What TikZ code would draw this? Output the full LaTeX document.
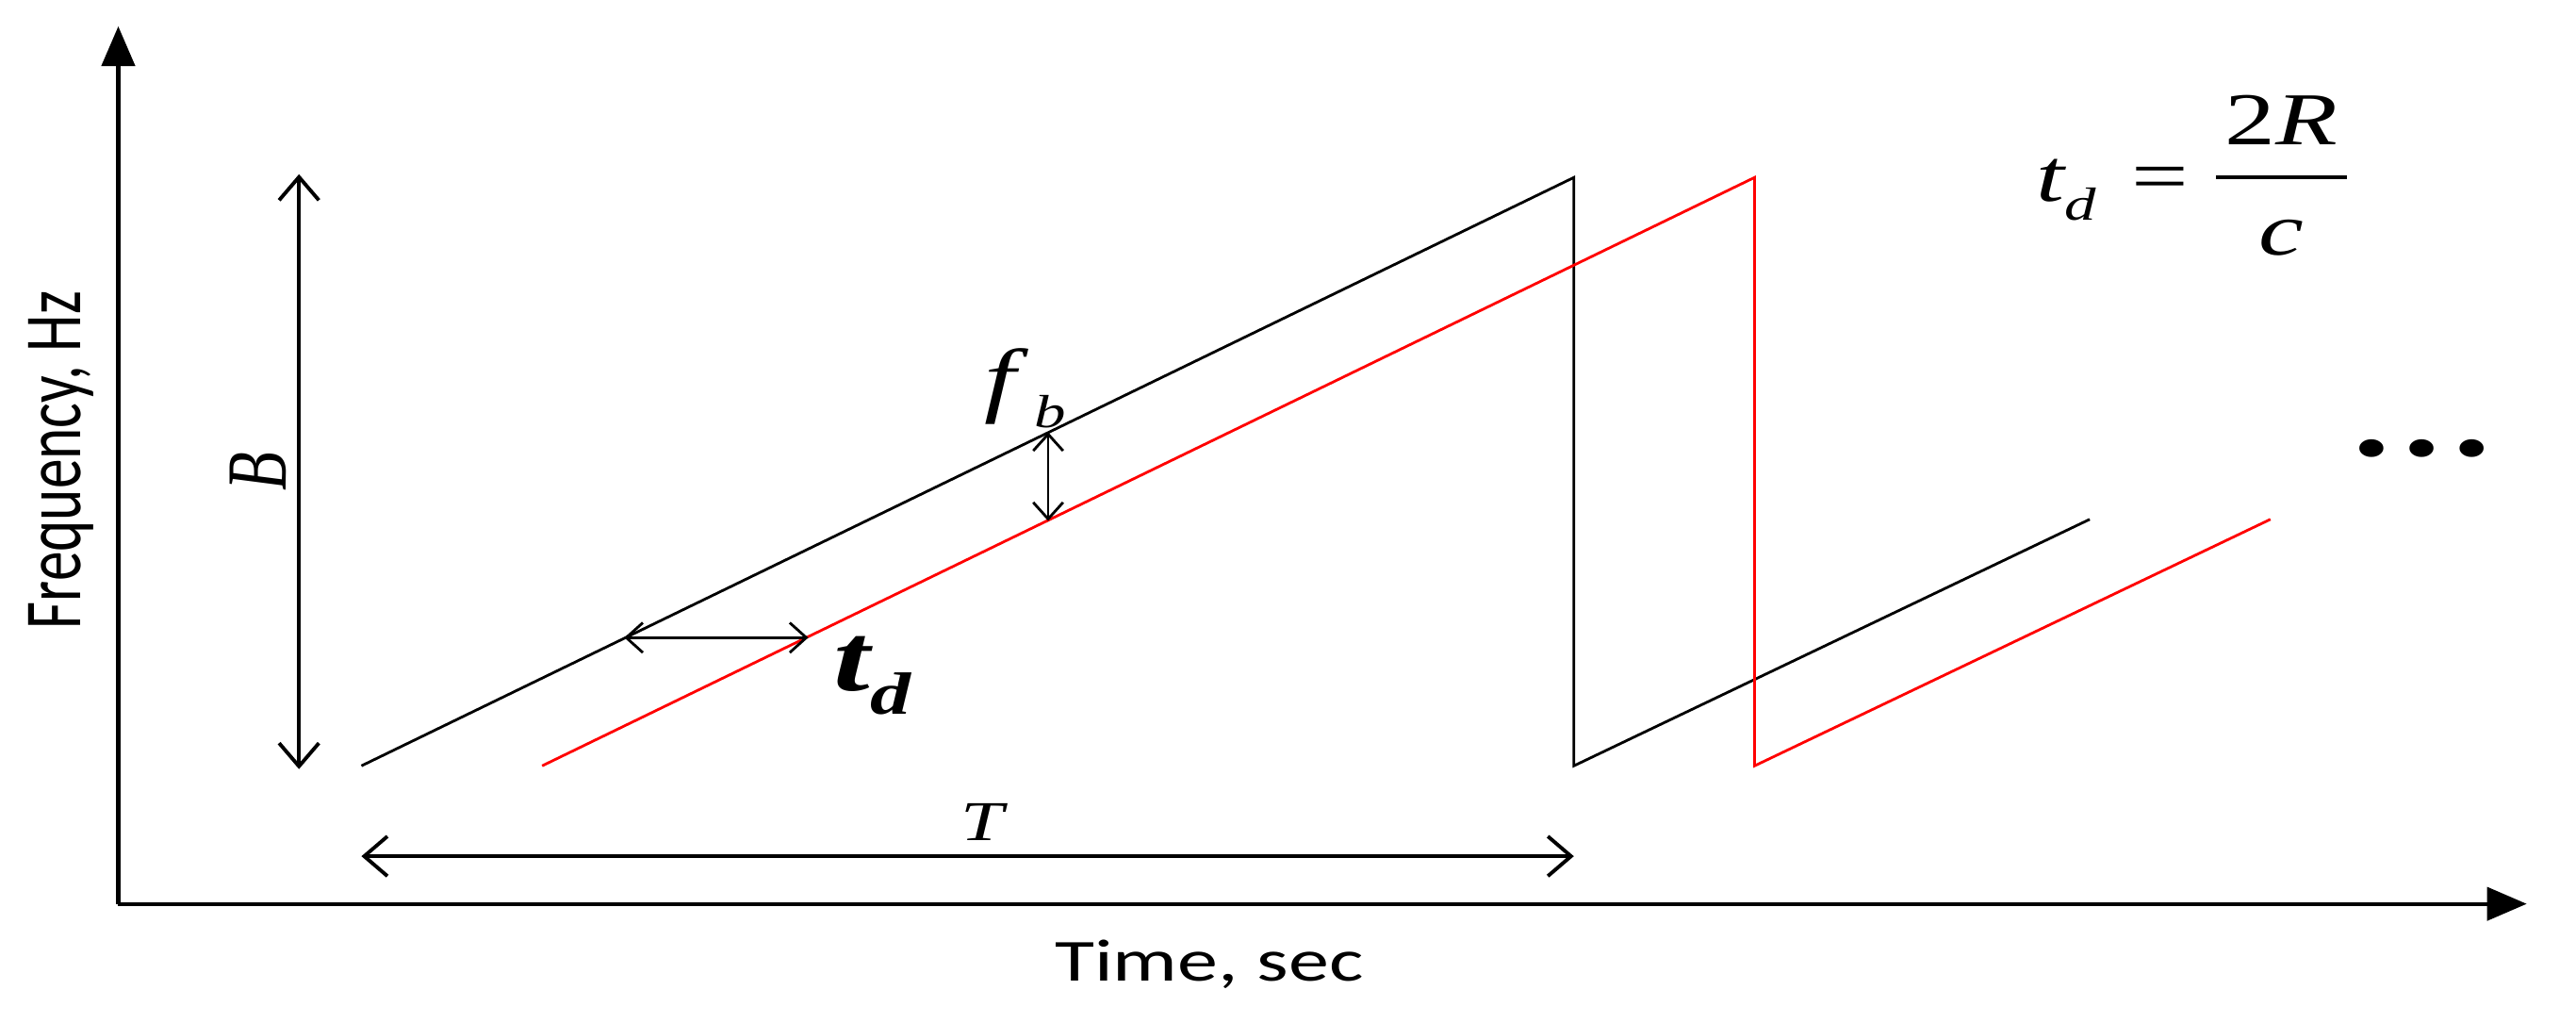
\documentclass[tikz,border=0pt]{standalone}
\usepackage{amsmath}
\usepackage{fontspec}
\setmainfont{Carlito}
\newfontfamily\tms{Liberation Serif}
\newcommand{\stretchx}[1]{\scalebox{1.36}[1]{#1}}
\usetikzlibrary{arrows.meta}
\begin{document}
\begin{tikzpicture}[x=0.01743cm, y=-0.01743cm,
    axis/.style={line width=1.2pt, -{Triangle[length=12pt,width=10pt]}},
    bigdim/.style={line width=1.1pt, {Straight Barb[length=7pt,width=12pt]}-{Straight Barb[length=7pt,width=12pt]}},
    smalldim/.style={line width=0.8pt, {Straight Barb[length=5pt,width=9pt]}-{Straight Barb[length=5pt,width=9pt]}},
    ramp/.style={line width=0.8pt, line join=miter},
    every node/.style={inner sep=0pt}]
    \useasboundingbox (0,0) rectangle (1568,622);
    % axes
    \coordinate (o) at (72,550);
    \coordinate (ytop) at (72,16);
    \coordinate (xend) at (1538,550);
    \draw[axis] (o) -- (ytop);
    \draw[axis] (o) -- (xend);
    \node (ylab) at (37,280) {\stretchx{\rotatebox{90}{\fontsize{18}{20}\selectfont Frequency, Hz}}};
    \node[anchor=base] (xlab) at (736,597) {\stretchx{\fontsize{18}{20}\selectfont Time, sec}};
    % transmitted and received chirps
    \coordinate (b0) at (220,466);
    \coordinate (b1) at (958,108);
    \coordinate (b2) at (958,466);
    \coordinate (b3) at (1272,316);
    \coordinate (r0) at (330,466);
    \coordinate (r1) at (1068,108);
    \coordinate (r2) at (1068,466);
    \coordinate (r3) at (1382,316);
    \draw[ramp, black] (b0) -- (b1) -- (b2) -- (b3);
    \draw[ramp, red] (r0) -- (r1) -- (r2) -- (r3);
    % bandwidth and period
    \coordinate (btop) at (182,106);
    \coordinate (bbot) at (182,468);
    \draw[bigdim] (bbot) -- (btop);
    \node (blab) at (157,287) {\stretchx{\rotatebox{90}{\fontsize{19}{20}\selectfont\tms\itshape B}}};
    \coordinate (tl) at (220,521);
    \coordinate (tr) at (958,521);
    \draw[bigdim] (tl) -- (tr);
    \node (tlab) at (598,500) {\stretchx{\fontsize{17}{18}\selectfont\tms\itshape T}};
    % delay and beat frequency
    \coordinate (dl) at (380,388);
    \coordinate (dr) at (492,388);
    \draw[smalldim] (dl) -- (dr);
    \node (tdlab) at (531,411) {\stretchx{\fontsize{29}{30}\selectfont\tms\bfseries\itshape t\raisebox{-7pt}{\fontsize{18}{18}\selectfont d}}};
    \coordinate (fu) at (638,263);
    \coordinate (fd) at (638,317);
    \draw[smalldim] (fu) -- (fd);
    \node (fblab) at (624,236) {\stretchx{\fontsize{25}{26}\selectfont\tms\itshape f\,\raisebox{-0.25em}{\fontsize{14}{14}\selectfont b}}};
    \node (eq) at (1334,112) {\stretchx{\fontsize{22.5}{24}\selectfont\tms\itshape t\raisebox{-0.25em}{\fontsize{14}{14}\selectfont d}\hspace{8pt}\upshape=\hspace{6pt}$\vcenter{\hbox{\setlength{\arrayrulewidth}{1.3pt}\begin{tabular}{@{\hspace{2pt}}c@{\hspace{2pt}}}\tms 2\itshape R\\[2pt]\hline\rule{0pt}{23pt}\tms\itshape c\end{tabular}}}$}};
    \node (dots) at (1474,273) {\stretchx{\fontsize{33}{34}\selectfont\tms\bfseries …}};
\end{tikzpicture}
\end{document}
